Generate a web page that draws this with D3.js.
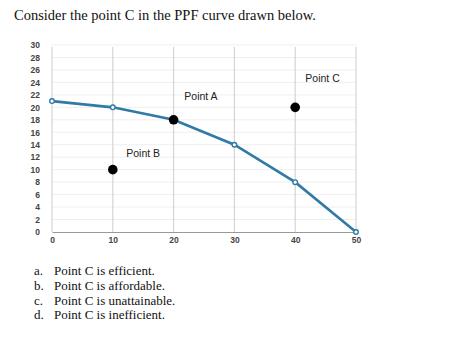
<!DOCTYPE html>
<html>
<head>
<meta charset="utf-8">
<script src="https://cdn.jsdelivr.net/npm/d3@7"></script>
<style>
  body { margin: 0; background: #fff; }
  svg { display: block; }
</style>
</head>
<body>
<svg id="chart" width="474" height="351"></svg>
<script>
// PPF data
let ppfX = [0, 10, 20, 30, 40, 50];
let ppfY = [21, 20, 18, 14, 8, 0];

// labelled points
let pointNames = ['Point A', 'Point B', 'Point C'];
let pointX = [20, 10, 40];
let pointY = [18, 10, 20];
let labelX = [24.5, 15, 44.5];
let labelY = [21.7, 12.7, 24.6];

let xTicks = [0, 10, 20, 30, 40, 50];
let yTicks = d3.range(0, 31, 2);

let answers = [
  ['a.', 'Point C is efficient.'],
  ['b.', 'Point C is affordable.'],
  ['c.', 'Point C is unattainable.'],
  ['d.', 'Point C is inefficient.']
];

let svg = d3.select('#chart');

svg.append('text')
    .attr('x', 14)
    .attr('y', 20)
    .attr('font-family', 'Liberation Serif, Times New Roman, serif')
    .attr('font-size', 14.5)
    .attr('fill', '#111')
    .text('Consider the point C in the PPF curve drawn below.');

let x = d3.scaleLinear().domain([0, 50]).range([52, 356]);
let y = d3.scaleLinear().domain([0, 30]).range([232, 45]);

// horizontal grid (faint)
svg.append('g')
    .selectAll('line')
    .data(yTicks.filter(d => d > 0))
    .enter()
    .append('line')
    .attr('x1', x(0)).attr('x2', x(50))
    .attr('y1', d => y(d)).attr('y2', d => y(d))
    .attr('stroke', '#efefef')
    .attr('stroke-width', 1);

// vertical grid
svg.append('g')
    .selectAll('line')
    .data(xTicks)
    .enter()
    .append('line')
    .attr('x1', d => x(d)).attr('x2', d => x(d))
    .attr('y1', y(30) + 2).attr('y2', y(0))
    .attr('stroke', '#d4d4d4')
    .attr('stroke-width', 1.2);

// x axis
let xAxis = svg.append('g')
    .attr('transform', 'translate(0,' + y(0) + ')')
    .call(d3.axisBottom(x).tickValues(xTicks).tickSize(0).tickPadding(5));
xAxis.select('.domain').attr('stroke', '#999').attr('stroke-width', 1.2);
xAxis.selectAll('text')
    .attr('font-family', 'Liberation Sans, Arial, sans-serif')
    .attr('font-size', 8.5)
    .attr('font-weight', 'bold')
    .attr('fill', '#444');

// y axis labels
let yAxis = svg.append('g')
    .attr('transform', 'translate(' + (x(0) - 12) + ',0)')
    .call(d3.axisLeft(y).tickValues(yTicks).tickSize(0).tickPadding(0));
yAxis.select('.domain').remove();
yAxis.selectAll('text')
    .attr('font-family', 'Liberation Sans, Arial, sans-serif')
    .attr('font-size', 8.5)
    .attr('font-weight', 'bold')
    .attr('fill', '#444');

// PPF line
let ppf = ppfX.map((d, i) => ({ x: d, y: ppfY[i] }));
let line = d3.line().x(d => x(d.x)).y(d => y(d.y));

svg.append('path')
    .datum(ppf)
    .attr('d', line)
    .attr('fill', 'none')
    .attr('stroke', '#2f7aa6')
    .attr('stroke-width', 2.6);

svg.selectAll('.vertex')
    .data(ppf)
    .enter()
    .append('circle')
    .attr('class', 'vertex')
    .attr('cx', d => x(d.x))
    .attr('cy', d => y(d.y))
    .attr('r', 2.3)
    .attr('fill', '#fff')
    .attr('stroke', '#2f7aa6')
    .attr('stroke-width', 1.4);

// black points
svg.selectAll('.pt')
    .data(pointNames)
    .enter()
    .append('circle')
    .attr('class', 'pt')
    .attr('cx', (d, i) => x(pointX[i]))
    .attr('cy', (d, i) => y(pointY[i]))
    .attr('r', 4.8)
    .attr('fill', '#000');

svg.selectAll('.ptlabel')
    .data(pointNames)
    .enter()
    .append('text')
    .attr('class', 'ptlabel')
    .attr('x', (d, i) => x(labelX[i]))
    .attr('y', (d, i) => y(labelY[i]))
    .attr('dy', '0.35em')
    .attr('text-anchor', 'middle')
    .attr('font-family', 'Liberation Sans, Arial, sans-serif')
    .attr('font-size', 10.5)
    .attr('fill', '#222')
    .text(d => d);

// answers
let ans = svg.selectAll('.ans')
    .data(answers)
    .enter()
    .append('g')
    .attr('transform', (d, i) => 'translate(0,' + (275 + i * 14.8) + ')');

ans.append('text')
    .attr('x', 34)
    .attr('font-family', 'Liberation Serif, Times New Roman, serif')
    .attr('font-size', 13)
    .attr('fill', '#111')
    .text(d => d[0]);

ans.append('text')
    .attr('x', 54)
    .attr('font-family', 'Liberation Serif, Times New Roman, serif')
    .attr('font-size', 13)
    .attr('fill', '#111')
    .text(d => d[1]);
</script>
</body>
</html>
